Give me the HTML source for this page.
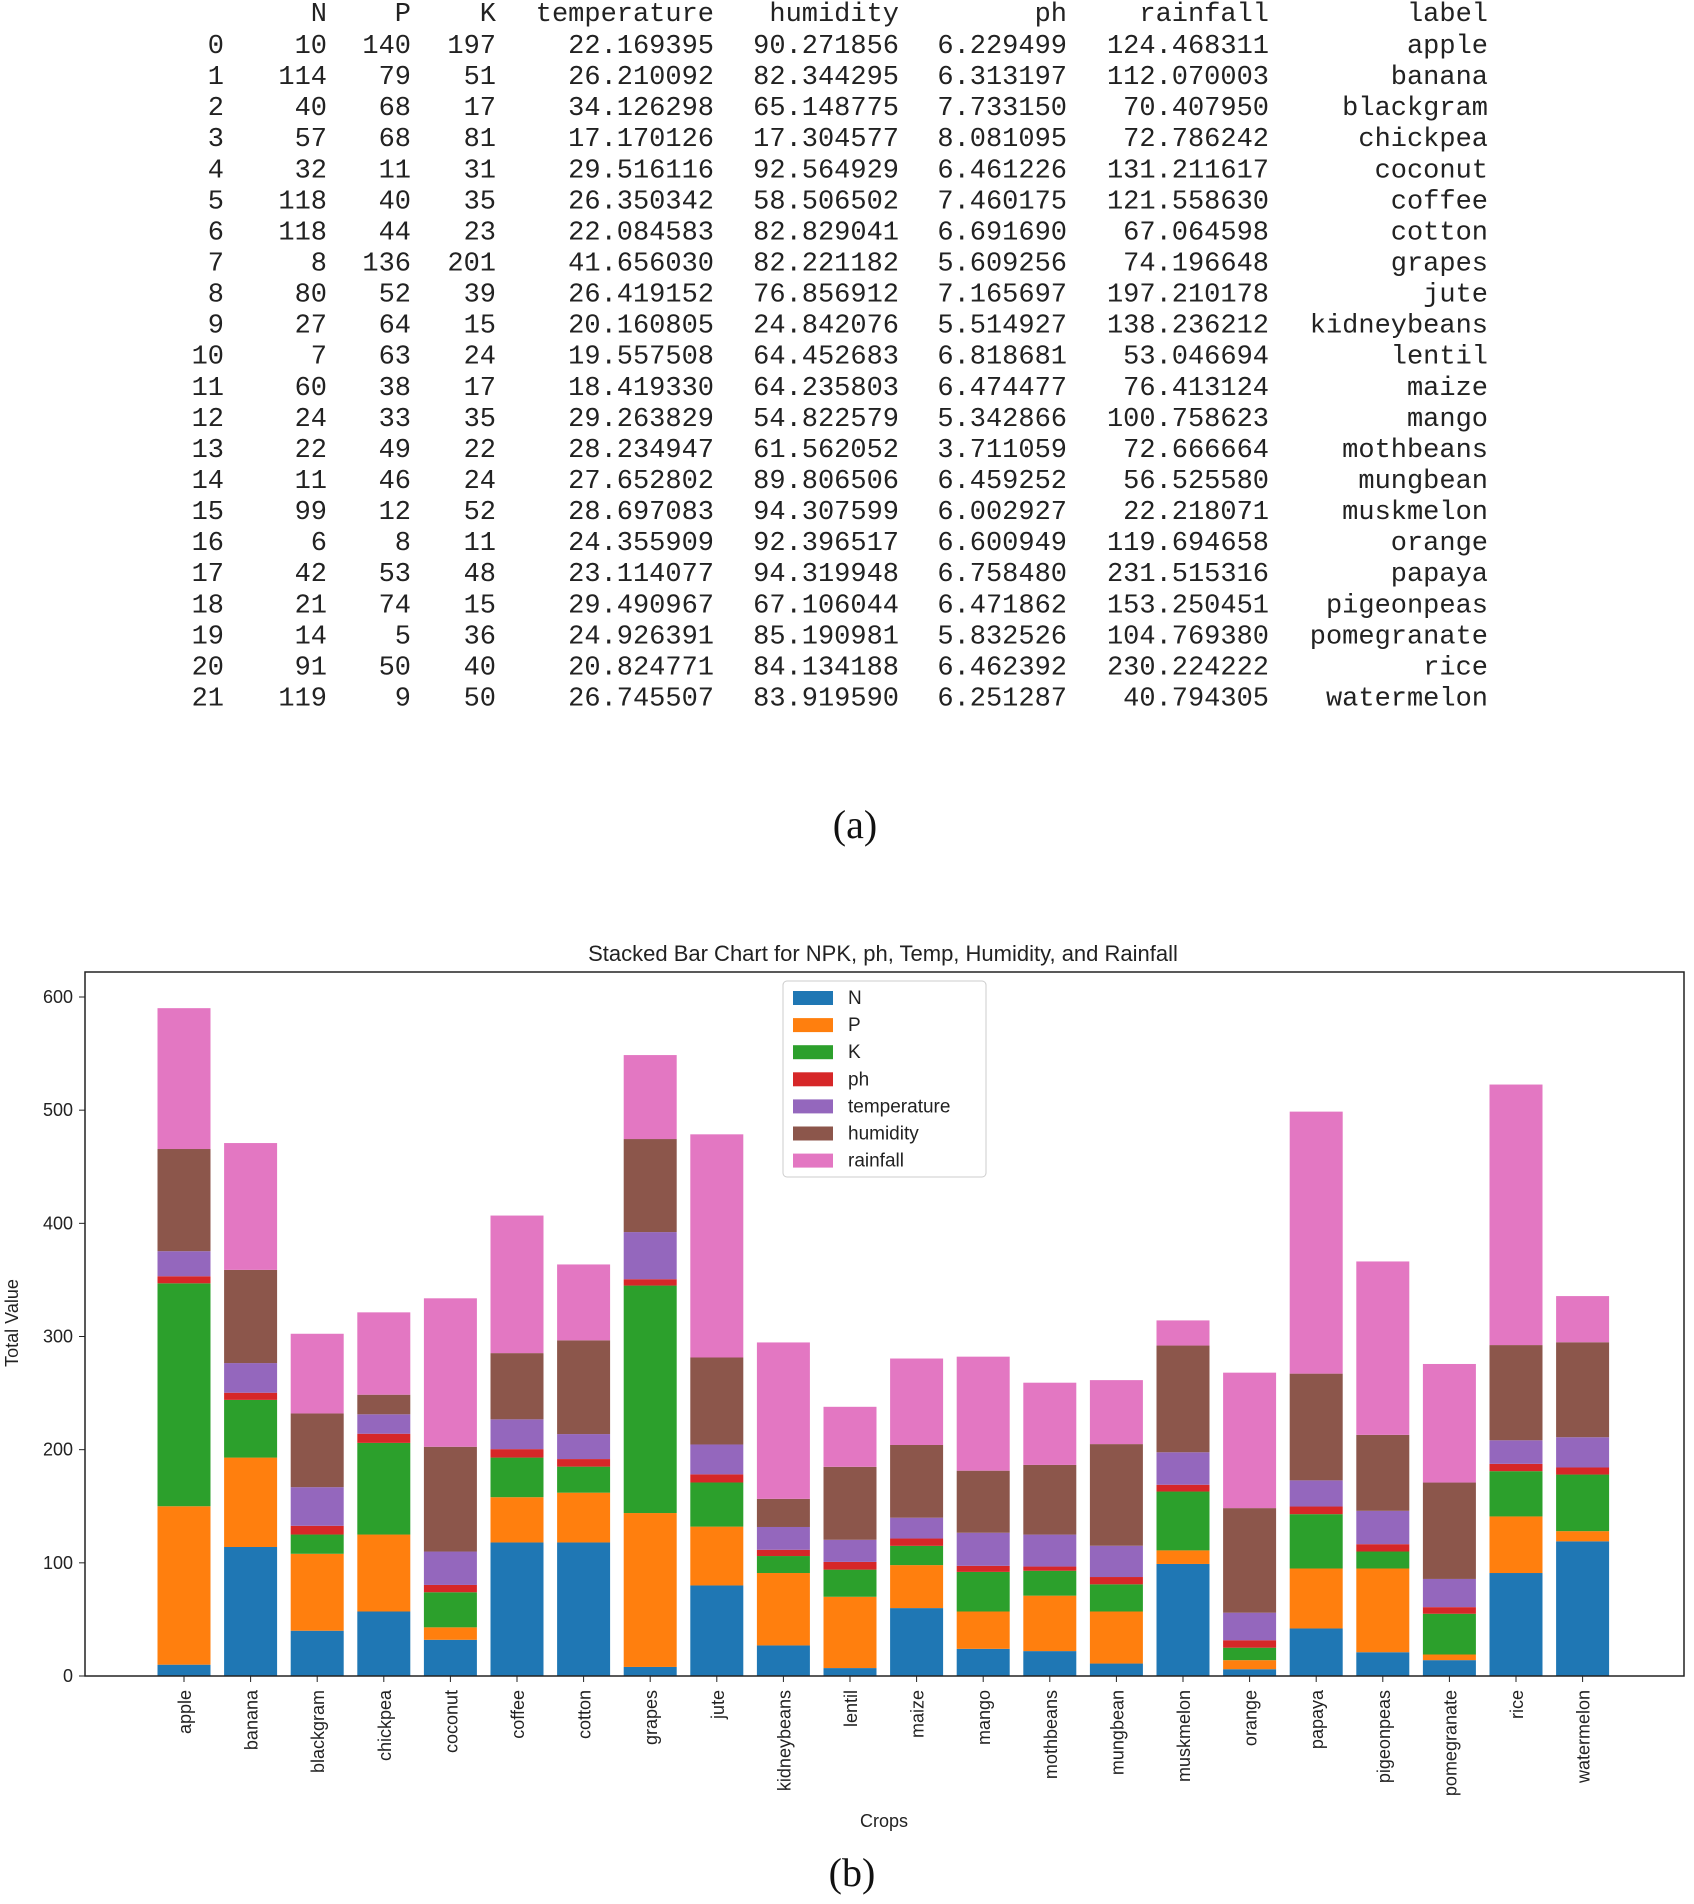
<!DOCTYPE html>
<html><head><meta charset="utf-8">
<style>
body{margin:0;background:#fff;width:1694px;height:1904px;overflow:hidden;position:relative}
svg{position:absolute;left:0;top:0}
</style></head><body>
<svg id="s" width="1694" height="1904" xmlns="http://www.w3.org/2000/svg"></svg>
<script>
const rows=[
["apple",10,140,197,22.169395,90.271856,6.229499,124.468311],
["banana",114,79,51,26.210092,82.344295,6.313197,112.070003],
["blackgram",40,68,17,34.126298,65.148775,7.733150,70.407950],
["chickpea",57,68,81,17.170126,17.304577,8.081095,72.786242],
["coconut",32,11,31,29.516116,92.564929,6.461226,131.211617],
["coffee",118,40,35,26.350342,58.506502,7.460175,121.558630],
["cotton",118,44,23,22.084583,82.829041,6.691690,67.064598],
["grapes",8,136,201,41.656030,82.221182,5.609256,74.196648],
["jute",80,52,39,26.419152,76.856912,7.165697,197.210178],
["kidneybeans",27,64,15,20.160805,24.842076,5.514927,138.236212],
["lentil",7,63,24,19.557508,64.452683,6.818681,53.046694],
["maize",60,38,17,18.419330,64.235803,6.474477,76.413124],
["mango",24,33,35,29.263829,54.822579,5.342866,100.758623],
["mothbeans",22,49,22,28.234947,61.562052,3.711059,72.666664],
["mungbean",11,46,24,27.652802,89.806506,6.459252,56.525580],
["muskmelon",99,12,52,28.697083,94.307599,6.002927,22.218071],
["orange",6,8,11,24.355909,92.396517,6.600949,119.694658],
["papaya",42,53,48,23.114077,94.319948,6.758480,231.515316],
["pigeonpeas",21,74,15,29.490967,67.106044,6.471862,153.250451],
["pomegranate",14,5,36,24.926391,85.190981,5.832526,104.769380],
["rice",91,50,40,20.824771,84.134188,6.462392,230.224222],
["watermelon",119,9,50,26.745507,83.919590,6.251287,40.794305]];
const S=document.getElementById('s');let h='';
const mono='font-family="Liberation Mono, monospace" font-size="27" fill="#222"';
const cols=[["N",327],["P",411],["K",496],["temperature",714],["humidity",899],["ph",1067],["rainfall",1269],["label",1488]];
cols.forEach(c=>h+=`<text x="${c[1]}" y="21" text-anchor="end" ${mono}>${c[0]}</text>`);
rows.forEach((r,i)=>{const y=53+i*31.07;
 const vals=[r[1],r[2],r[3],r[4].toFixed(6),r[5].toFixed(6),r[6].toFixed(6),r[7].toFixed(6),r[0]];
 h+=`<text x="224" y="${y}" text-anchor="end" ${mono}>${i}</text>`;
 vals.forEach((v,j)=>h+=`<text x="${cols[j][1]}" y="${y}" text-anchor="end" ${mono}>${v}</text>`);
});
h+=`<text x="855" y="838" text-anchor="middle" font-family="Liberation Serif, serif" font-size="40" fill="#111">(a)</text>`;
const X0=85,X1=1684,Y0=1676,k=(1676-997)/600,TOP=972;
const colors=["#1f77b4","#ff7f0e","#2ca02c","#d62728","#9467bd","#8c564b","#e377c2"];
h+=`<text x="883" y="961" text-anchor="middle" font-family="Liberation Sans, sans-serif" font-size="22" fill="#222">Stacked Bar Chart for NPK, ph, Temp, Humidity, and Rainfall</text>`;
rows.forEach((r,i)=>{const cx=184+i*66.6;const order=[r[1],r[2],r[3],r[6],r[4],r[5],r[7]];let base=0;
 order.forEach((v,j)=>{const y1=Y0-(base+v)*k;h+=`<rect x="${cx-26.5}" y="${y1}" width="53" height="${v*k}" fill="${colors[j]}"/>`;base+=v;});
 h+=`<line x1="${cx}" y1="${Y0}" x2="${cx}" y2="${Y0+6}" stroke="#222"/>`;
 h+=`<text transform="translate(${cx+7},${Y0+14}) rotate(-90)" text-anchor="end" font-family="Liberation Sans, sans-serif" font-size="18" fill="#222">${r[0]}</text>`;
});
h+=`<rect x="${X0}" y="${TOP}" width="${X1-X0}" height="${Y0-TOP}" fill="none" stroke="#222" stroke-width="1.5"/>`;
for(let v=0;v<=600;v+=100){const y=Y0-v*k;h+=`<line x1="${X0-6}" y1="${y}" x2="${X0}" y2="${y}" stroke="#222"/><text x="${X0-12}" y="${y+6}" text-anchor="end" font-family="Liberation Sans, sans-serif" font-size="18" fill="#222">${v}</text>`;}
h+=`<text transform="translate(18,1323) rotate(-90)" text-anchor="middle" font-family="Liberation Sans, sans-serif" font-size="18" fill="#222">Total Value</text>`;
h+=`<text x="884" y="1827" text-anchor="middle" font-family="Liberation Sans, sans-serif" font-size="18" fill="#222">Crops</text>`;
h+=`<rect x="783" y="981" width="203" height="196" rx="4" fill="#fff" fill-opacity="0.85" stroke="#ccc"/>`;
["N","P","K","ph","temperature","humidity","rainfall"].forEach((n,i)=>{const y=997+i*27.1;
 h+=`<rect x="793" y="${y-6}" width="40" height="14" fill="${colors[i]}"/><text x="848" y="${y+7}" font-family="Liberation Sans, sans-serif" font-size="19" fill="#222">${n}</text>`;});
h+=`<text x="852" y="1886" text-anchor="middle" font-family="Liberation Serif, serif" font-size="40" fill="#111">(b)</text>`;
S.innerHTML=h;
</script>
</body></html>
